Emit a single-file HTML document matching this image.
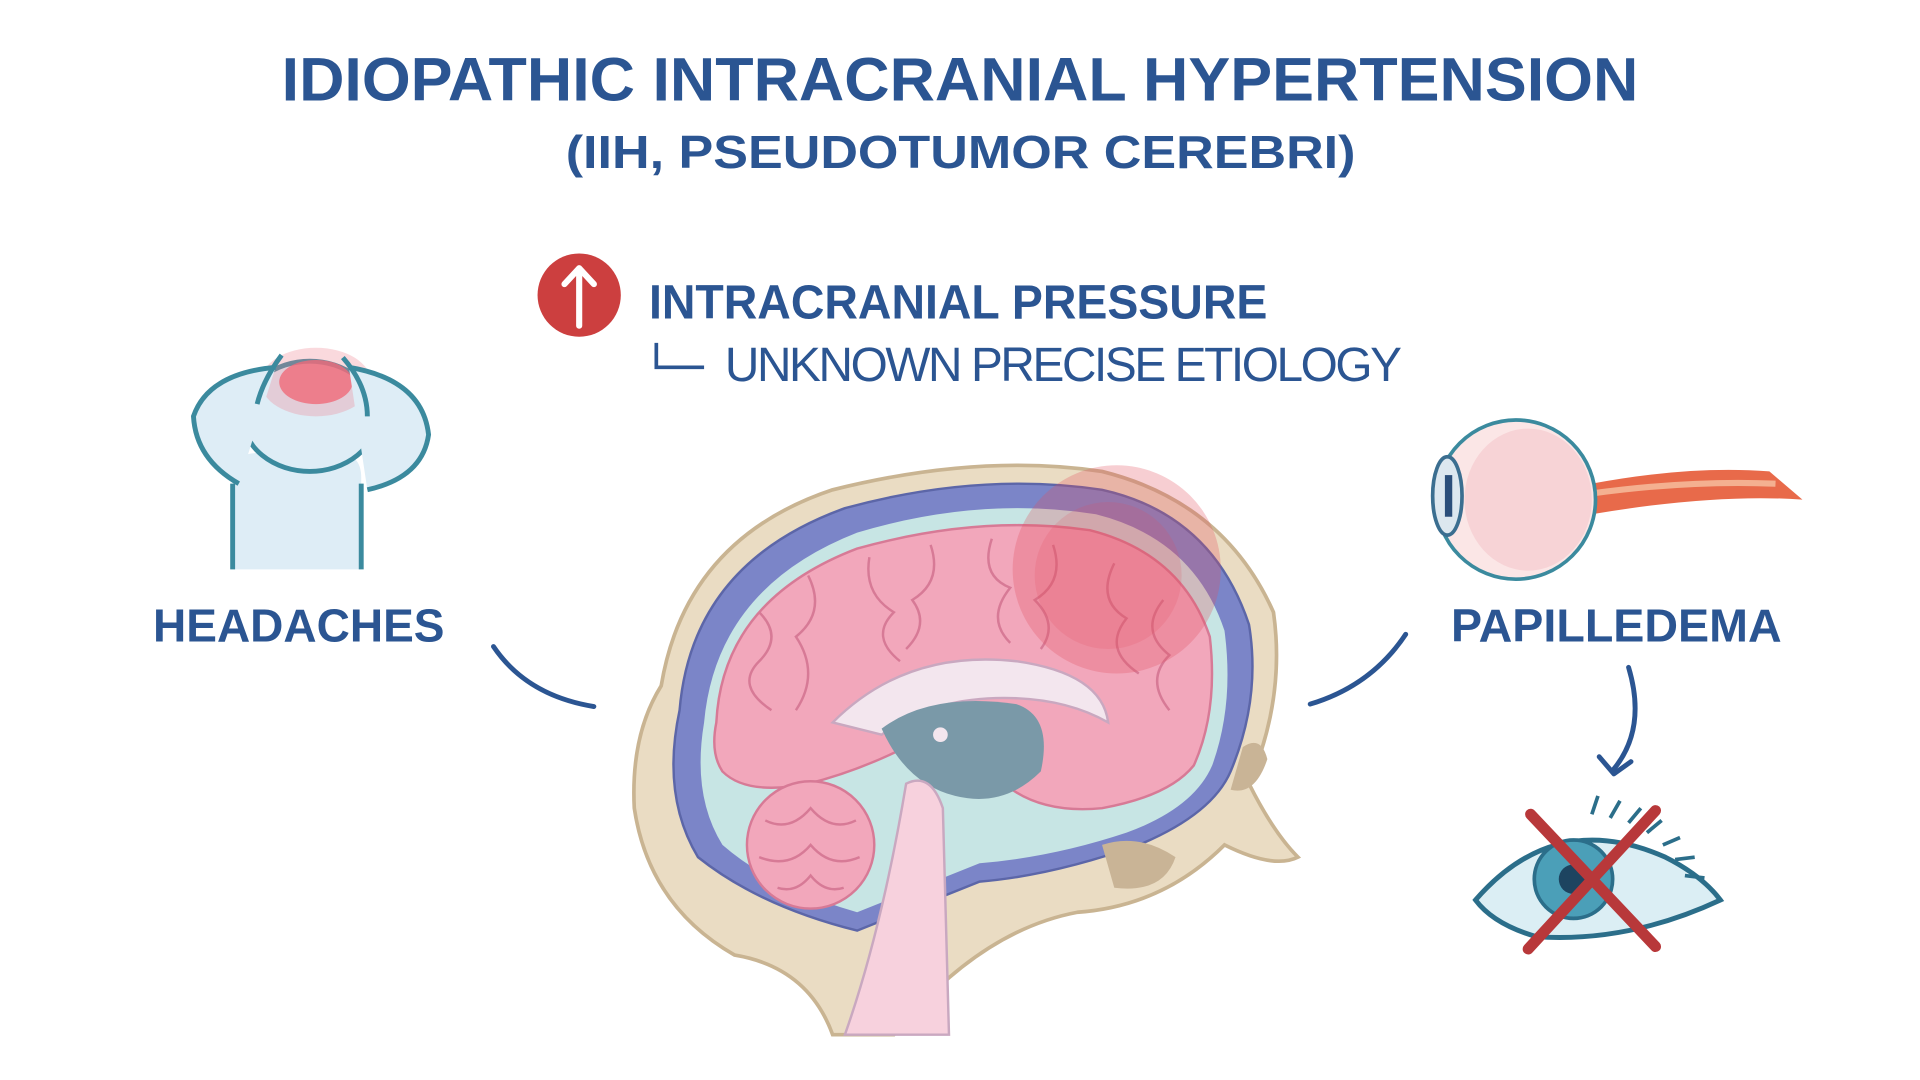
<!DOCTYPE html>
<html><head><meta charset="utf-8"><style>
html,body{margin:0;padding:0;background:#fff;}
svg{display:block}
text{font-family:"Liberation Sans",sans-serif;fill:#2b5592}
</style></head><body>
<svg width="1920" height="1080" viewBox="0 0 1568 882" xmlns="http://www.w3.org/2000/svg">
<rect width="1568" height="882" fill="#fff"/>
<!-- Title -->
<text x="230" y="82" font-size="50" font-weight="bold" textLength="1108" lengthAdjust="spacingAndGlyphs">IDIOPATHIC INTRACRANIAL HYPERTENSION</text>
<text x="462" y="137" font-size="38" font-weight="bold" textLength="645" lengthAdjust="spacingAndGlyphs">(IIH, PSEUDOTUMOR CEREBRI)</text>
<!-- ICP -->
<circle cx="473" cy="241" r="34" fill="#cc3f3f"/>
<path d="M473 266 V220 M461 232 L473 219 L485 232" stroke="#fff" stroke-width="5" fill="none" stroke-linecap="round" stroke-linejoin="round"/>
<text x="530" y="260" font-size="39" font-weight="bold" textLength="505" lengthAdjust="spacingAndGlyphs">INTRACRANIAL PRESSURE</text>
<path d="M536 280 V300 H575" stroke="#2b5592" stroke-width="3" fill="none"/>
<text x="592" y="311" font-size="39" textLength="553">UNKNOWN PRECISE ETIOLOGY</text>
<!-- Headache figure -->
<path d="M190 465 V390 Q190 370 210 370 H275 Q295 370 295 390 V465 Z" fill="#deedf6"/>
<path d="M190 465 V395 M295 465 V395" stroke="#3b8a9e" stroke-width="4" fill="none"/>
<ellipse cx="253" cy="340" rx="55" ry="45" fill="#deedf6" stroke="#3b8a9e" stroke-width="4"/>
<ellipse cx="258" cy="312" rx="30" ry="18" fill="#ef6070" opacity="0.8"/>
<ellipse cx="258" cy="312" rx="45" ry="28" fill="#ef8090" opacity="0.3"/>
<path d="M225 300 Q170 305 158 340 Q160 375 195 395 M285 300 Q345 310 350 355 Q345 390 300 400" stroke="#3b8a9e" stroke-width="4" fill="#deedf6"/>
<path d="M230 290 Q215 310 210 330 M280 292 Q300 315 300 340" stroke="#3b8a9e" stroke-width="4" fill="none"/>
<text x="125" y="524" font-size="38" font-weight="bold" textLength="238" lengthAdjust="spacingAndGlyphs">HEADACHES</text>
<path d="M403 528 Q430 568 485 577" stroke="#2b5592" stroke-width="4" fill="none" stroke-linecap="round"/>
<!-- Eye top right -->
<path d="M1300 395 Q1380 380 1445 385 L1472 408 Q1400 403 1300 420 Z" fill="#e86a4a"/>
<path d="M1300 403 Q1380 392 1450 395" stroke="#f4b090" stroke-width="5" fill="none"/>
<circle cx="1238" cy="408" r="65" fill="#fbe6e6" stroke="#3b8a9e" stroke-width="3"/>
<ellipse cx="1248" cy="408" rx="52" ry="58" fill="#f7d3d6"/>
<ellipse cx="1182" cy="405" rx="12" ry="32" fill="#dce7ef" stroke="#3b6e90" stroke-width="3"/>
<rect x="1180" y="388" width="6" height="34" fill="#2b4e7a"/>
<text x="1185" y="524" font-size="38" font-weight="bold" textLength="270" lengthAdjust="spacingAndGlyphs">PAPILLEDEMA</text>
<path d="M1148 518 Q1120 560 1070 575" stroke="#2b5592" stroke-width="4" fill="none" stroke-linecap="round"/>
<path d="M1330 545 Q1345 595 1318 628" stroke="#2b5592" stroke-width="4" fill="none" stroke-linecap="round"/>
<path d="M1306 618 L1318 632 L1332 622" stroke="#2b5592" stroke-width="4" fill="none" stroke-linecap="round" stroke-linejoin="round"/>
<!-- Bottom eye -->
<path d="M1205 735 Q1270 660 1360 700 Q1390 715 1405 735 Q1330 770 1255 765 Q1220 755 1205 735 Z" fill="#dbeef4" stroke="#2b6e8a" stroke-width="4"/>
<circle cx="1285" cy="718" r="32" fill="#4b9fb8" stroke="#2b6e8a" stroke-width="3"/>
<circle cx="1285" cy="718" r="12" fill="#1d4460"/>
<path d="M1300 665 l5 -15 M1315 668 l8 -14 M1330 672 l10 -12 M1345 680 l12 -10 M1358 690 l14 -6 M1368 702 l16 -2 M1376 715 l16 2" stroke="#2b6e8a" stroke-width="3"/>
<path d="M1250 665 L1352 773 M1352 662 L1248 775" stroke="#b8383a" stroke-width="9" stroke-linecap="round"/>
<!-- Brain -->
<path d="M540 560 Q560 440 680 400 Q800 370 900 385 Q1000 410 1040 500 Q1050 570 1020 640 Q1040 680 1060 700 Q1040 710 1000 690 Q950 740 880 745 Q800 760 730 845 L680 845 Q660 790 600 780 Q530 740 518 660 Q515 600 540 560 Z" fill="#eadcc3" stroke="#c9b492" stroke-width="3"/>
<path d="M555 580 Q565 460 690 415 Q800 385 900 400 Q990 420 1020 510 Q1030 570 1005 630 Q990 665 930 690 Q860 715 800 720 L700 760 Q620 740 570 700 Q540 650 555 580 Z" fill="#7b85c8" stroke="#5c66a8" stroke-width="2"/>
<path d="M575 590 Q585 480 700 435 Q800 405 895 420 Q975 440 1000 515 Q1008 575 990 625 Q975 660 920 680 Q860 700 800 705 L700 745 Q630 725 590 690 Q565 650 575 590 Z" fill="#c7e5e4"/>
<path d="M585 590 Q590 490 700 448 Q800 420 890 433 Q965 452 988 520 Q995 580 975 625 Q955 650 900 660 Q850 665 820 640 Q780 600 740 610 Q700 630 660 640 Q610 650 590 630 Q580 615 585 590 Z" fill="#f2a7bb" stroke="#d77a96" stroke-width="2"/>
<g stroke="#d77a96" stroke-width="2" fill="none">
<path d="M620 500 q20 20 0 40 q-20 20 10 40"/><path d="M660 470 q15 30 -10 50 q20 30 0 60"/><path d="M710 455 q-5 30 20 45 q-20 20 5 40"/><path d="M760 445 q10 30 -15 45 q15 20 -5 40"/><path d="M810 440 q-10 30 15 40 q-20 25 0 45"/><path d="M860 445 q10 30 -15 45 q20 20 5 40"/><path d="M910 460 q-15 30 10 45 q-20 25 10 45"/><path d="M950 490 q-20 25 5 45 q-20 20 0 45"/>
</g>
<path d="M680 590 Q740 530 830 540 Q900 550 905 590 Q870 570 820 570 Q760 570 720 600 Z" fill="#f3e6ee" stroke="#c9a8c0" stroke-width="2"/>
<path d="M720 595 Q760 565 830 575 Q860 585 850 630 Q820 660 780 650 Q740 640 720 595 Z" fill="#7a99a8"/>
<circle cx="768" cy="600" r="6" fill="#f3e6ee"/>
<path d="M740 640 Q760 630 770 660 L775 845 L690 845 Q720 760 740 640 Z" fill="#f7d1dd" stroke="#c9a8c0" stroke-width="2"/>
<circle cx="662" cy="690" r="52" fill="#f2a7bb" stroke="#d77a96" stroke-width="2"/>
<g stroke="#d77a96" stroke-width="2" fill="none"><path d="M625 670 q20 10 37 -10 q17 20 37 10"/><path d="M620 700 q25 10 42 -10 q17 20 40 10"/><path d="M635 725 q15 5 27 -10 q12 15 27 10"/></g>
<circle cx="912" cy="465" r="85" fill="#e24f5e" opacity="0.28"/>
<circle cx="905" cy="470" r="60" fill="#e24f5e" opacity="0.18"/>
<path d="M900 690 Q930 680 960 700 Q950 730 910 725 Z M1015 610 Q1030 600 1035 620 Q1025 650 1005 645 Z" fill="#c9b496"/>
</svg>
</body></html>
